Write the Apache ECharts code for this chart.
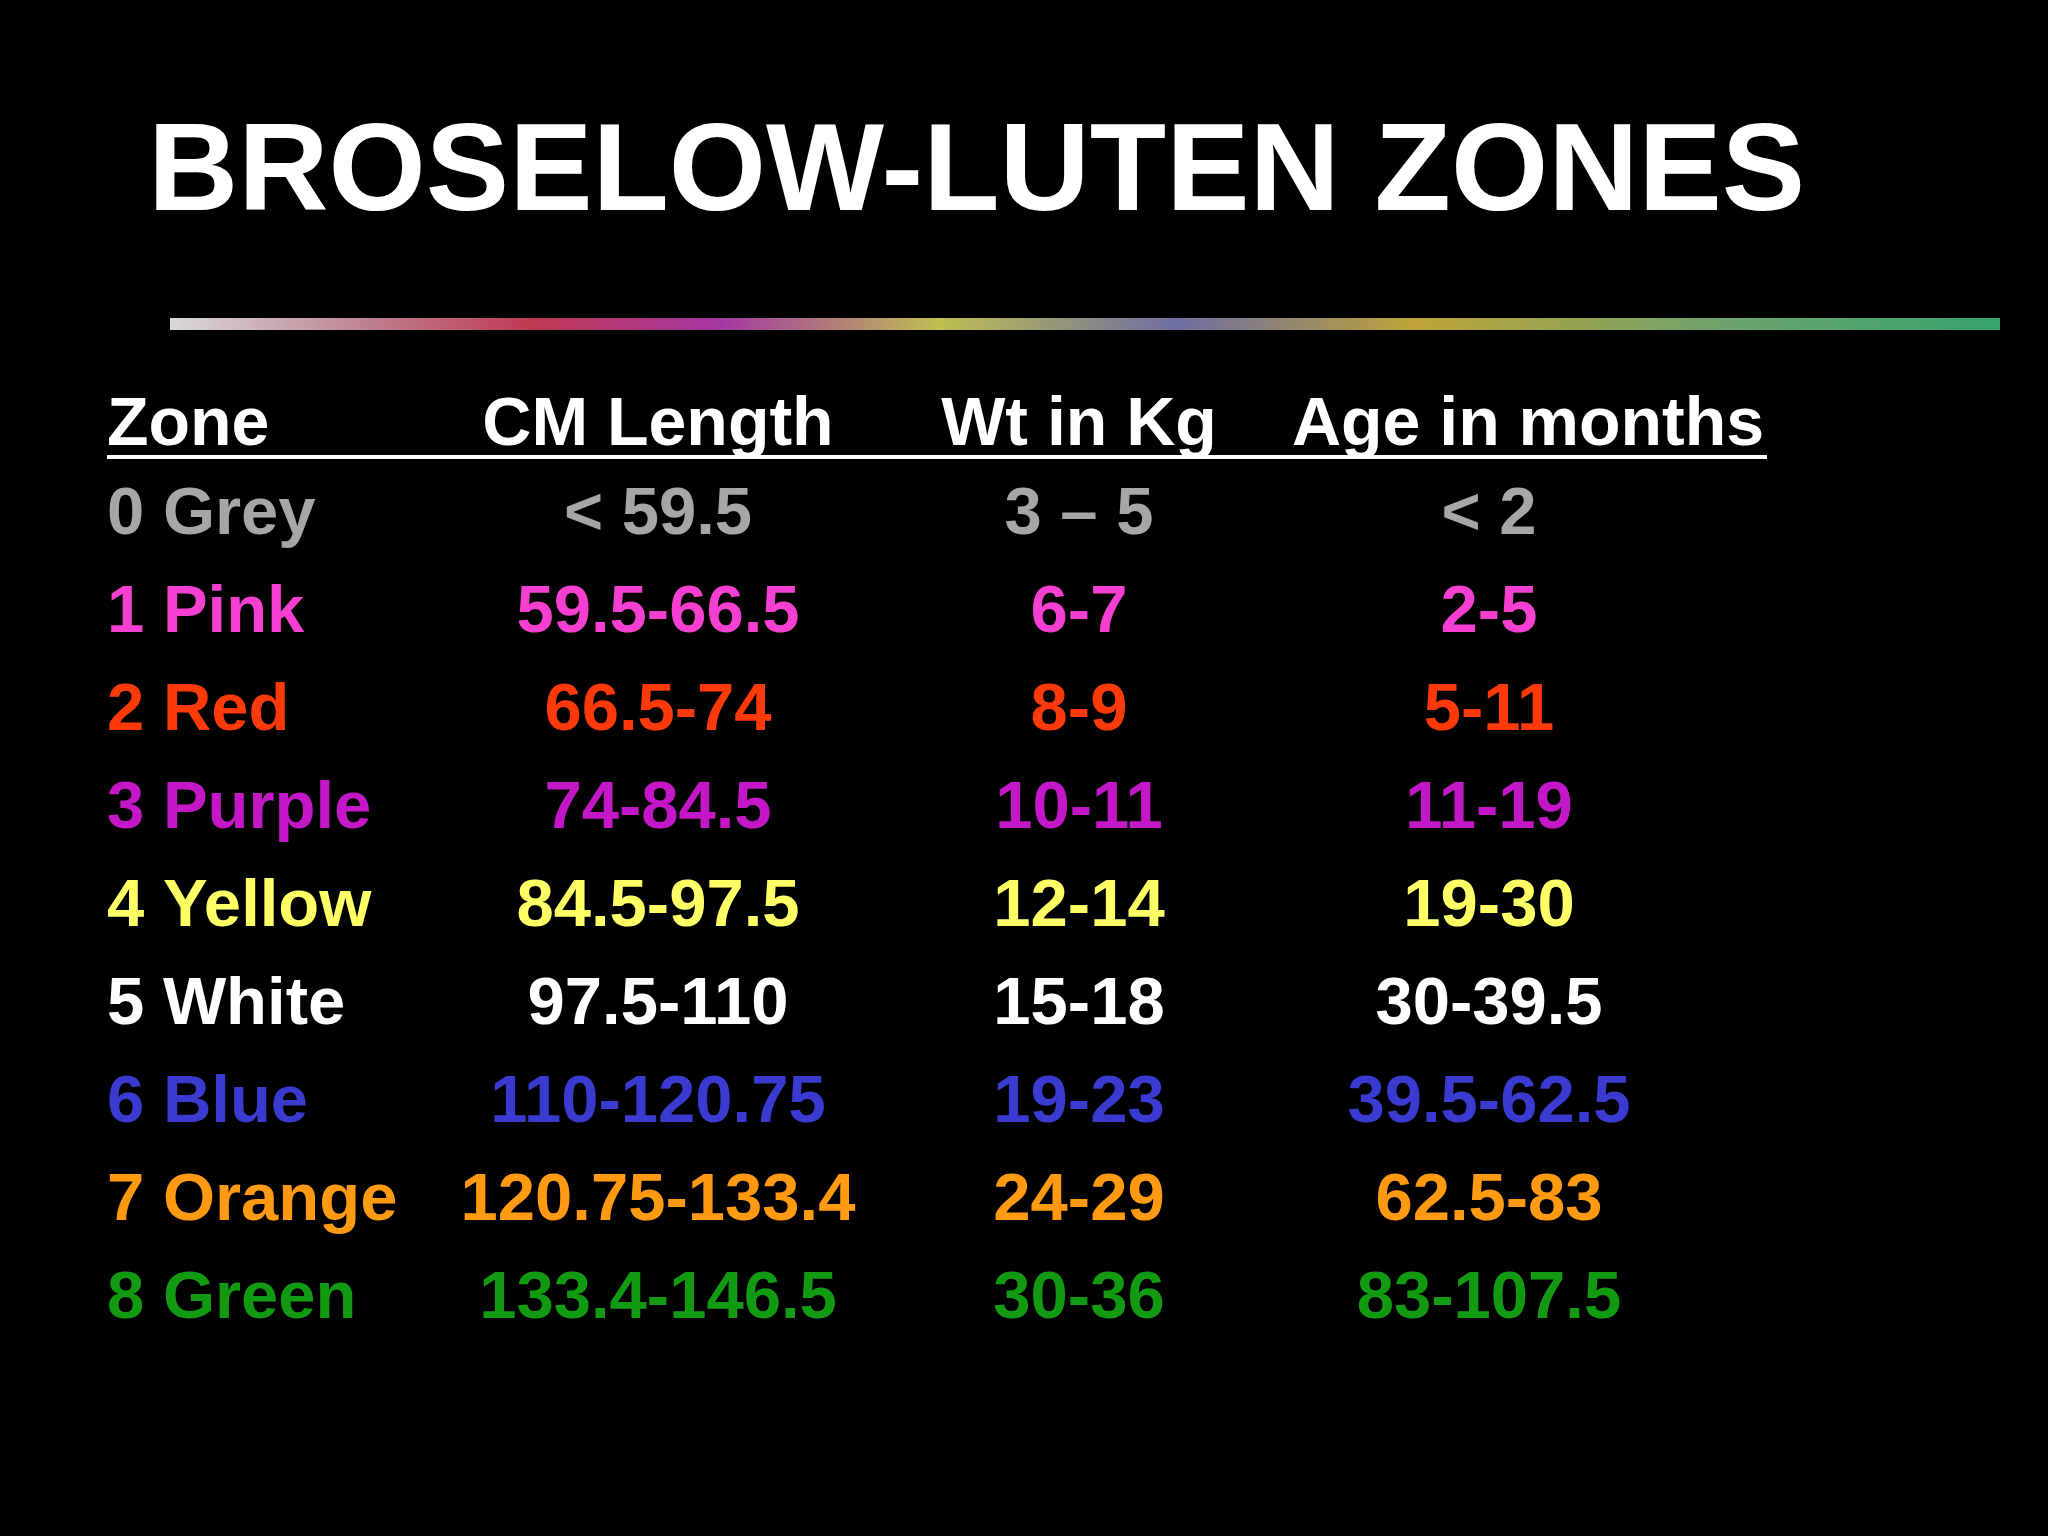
<!DOCTYPE html>
<html><head><meta charset="utf-8">
<script src="https://cdn.jsdelivr.net/npm/echarts@6/dist/echarts.min.js"></script>
<style>html,body{margin:0;background:#000}#c{width:2048px;height:1536px}</style>
</head><body><div id="c"></div>
<script>
const title = 'BROSELOW-LUTEN ZONES';
const headers = ['Zone', 'CM Length', 'Wt in Kg', 'Age in months'];
const zones = ['0 Grey','1 Pink','2 Red','3 Purple','4 Yellow','5 White','6 Blue','7 Orange','8 Green'];
const lengths = ['< 59.5','59.5-66.5','66.5-74','74-84.5','84.5-97.5','97.5-110','110-120.75','120.75-133.4','133.4-146.5'];
const weights = ['3 – 5','6-7','8-9','10-11','12-14','15-18','19-23','24-29','30-36'];
const ages = ['< 2','2-5','5-11','11-19','19-30','30-39.5','39.5-62.5','62.5-83','83-107.5'];
const zoneColors = ['#a6a6a6','#f53fd0','#ff3a0a','#c418c8','#ffff66','#ffffff','#3a3ad0','#ff9a12','#139a13'];

// layout (pixel positions of columns)
const colX = [107, 658, 1079, 1489];
const headerX = [107, 658, 1079, 1528];
const font = 'Liberation Sans, Arial, sans-serif';

const columns = [zones, lengths, weights, ages];
const series = columns.map((col, ci) => ({
  type: 'scatter', symbolSize: 0, silent: true,
  itemStyle: { opacity: 1 },
  emphasis: { disabled: true },
  data: col.map((t, i) => ({
    value: [colX[ci], i], name: t,
    label: { color: zoneColors[i] }
  })),
  label: {
    show: true, position: 'inside', formatter: p => p.name, opacity: 1,
    fontFamily: font, fontWeight: 'bold', fontSize: 67,
    align: ci === 0 ? 'left' : 'center', verticalAlign: 'middle'
  }
}));

const chart = echarts.init(document.getElementById('c'));
chart.setOption({
  backgroundColor: '#000',
  animation: false,
  title: { text: title, left: 143, top: 108,
    textStyle: { color: '#fff', fontFamily: font, fontWeight: 'bold', fontSize: 125 } },
  grid: { left: 0, right: 0, top: 467, bottom: 187 },
  xAxis: { type: 'value', min: 0, max: 2048, show: false },
  yAxis: { type: 'category', inverse: true, data: zones, show: false },
  graphic: [
    { type: 'rect', shape: { x: 170, y: 318, width: 1830, height: 12 },
      style: { fill: new echarts.graphic.LinearGradient(0, 0, 1, 0, [
        { offset: 0, color: '#ffffff' }, { offset: 0.1, color: '#e0a0b0' },
        { offset: 0.2, color: '#e04060' }, { offset: 0.3, color: '#c040c0' },
        { offset: 0.42, color: '#e0e060' }, { offset: 0.55, color: '#8080c0' },
        { offset: 0.68, color: '#e0c040' }, { offset: 0.85, color: '#80c080' },
        { offset: 1, color: '#40c080' }]), opacity: 0.85 } },
    ...headers.map((h, i) => ({
      type: 'text', x: headerX[i], y: 426,
      style: { text: h, fill: '#fff', font: 'bold 68px ' + font,
        align: i === 0 ? 'left' : 'center', verticalAlign: 'middle' } })),
    { type: 'rect', shape: { x: 107, y: 455, width: 1660, height: 4 }, style: { fill: '#fff' } }
  ],
  series
});
</script></body></html>
